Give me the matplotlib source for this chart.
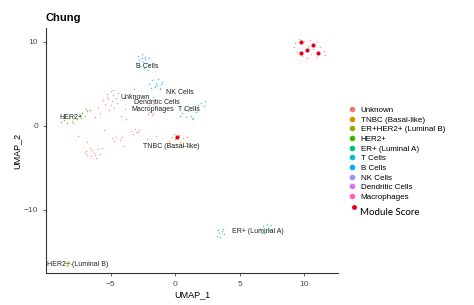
import matplotlib.pyplot as plt
from matplotlib.lines import Line2D

plt.rcParams['font.family'] = ['Liberation Sans', 'DejaVu Sans']

categories = ['Unknown', 'TNBC (Basal-like)', 'ER+HER2+ (Luminal B)', 'HER2+', 'ER+ (Luminal A)',
              'T Cells', 'B Cells', 'NK Cells', 'Dendritic Cells', 'Macrophages']
colors = ['#F8766D', '#D89000', '#A3A500', '#39B600', '#00BF7D',
          '#00BFC4', '#00B0F6', '#9590FF', '#E76BF3', '#FF62BC']

# approximate UMAP coordinates
unknown = [(-5.3, 3.8), (-5.0, 4.1), (-4.8, 3.6), (-5.2, 3.2), (-4.9, 2.9), (-4.6, 3.3), (-5.4, 2.6),
           (-5.0, 2.4), (-4.7, 2.1), (-5.1, 1.9), (-4.5, 2.7), (-5.3, 3.4), (-4.8, 4.2), (-4.4, 3.9),
           (-5.6, 3.0), (-6.0, 2.2), (-5.8, 1.5), (-4.2, 1.2), (-3.9, 2.0), (-3.5, 3.8), (-3.2, 4.4),
           (-3.8, 0.8), (-6.2, 1.0),
           (-6.9, -3.0), (-6.6, -2.7), (-6.3, -3.2), (-6.0, -2.8), (-5.8, -3.4), (-6.5, -3.6),
           (-6.8, -3.5), (-6.1, -3.8), (-5.7, -2.6), (-6.4, -2.9), (-6.2, -3.5), (-7.0, -3.3),
           (-3.4, -0.6), (-3.1, -0.4), (-2.9, -0.8), (-3.3, -1.0), (-2.8, -0.5), (-3.0, -0.7),
           (-4.9, -1.5), (-4.6, -1.3), (-4.3, -1.7), (-4.1, -1.4), (-4.7, -1.8),
           (-7.5, -1.2), (-5.5, -0.5), (-2.2, -1.6), (-1.5, -1.2), (-6.8, -1.9), (-4.0, -2.4),
           (9.3, 9.8), (9.6, 10.3), (10.0, 10.1), (10.4, 10.2), (10.9, 9.9), (11.2, 9.4), (11.5, 8.9),
           (11.0, 8.2), (10.5, 8.5), (10.2, 8.0), (9.8, 8.3), (9.4, 8.8), (9.2, 9.3), (10.3, 9.5),
           (10.7, 9.1), (11.6, 8.4)]
tnbc = [(-0.5, -1.8), (-0.3, -1.3), (0.0, -1.6), (0.3, -1.1), (0.6, -1.5), (0.8, -2.0), (0.5, -2.4),
        (0.1, -2.2), (-0.2, -2.5), (-0.4, -2.1), (0.4, -1.9), (0.9, -1.3), (-0.1, -1.0)]
luminal_b = [(-8.5, -16.3), (-8.3, -16.6), (-8.1, -16.4), (-8.4, -16.7), (-8.2, -16.2)]
her2 = [(-8.8, 0.4), (-8.6, 0.7), (-8.4, 0.3), (-8.2, 0.9), (-8.0, 0.5), (-7.8, 1.1), (-7.6, 0.8),
        (-7.4, 1.3), (-7.2, 1.5), (-7.0, 1.2), (-6.8, 1.7), (-6.6, 1.9), (-8.7, 0.9), (-7.9, 0.3),
        (-7.3, 0.9), (-6.9, 2.0)]
luminal_a = [(3.2, -13.1), (3.4, -12.8), (3.6, -12.5), (3.8, -12.9), (3.3, -12.4), (3.5, -13.2),
             (3.7, -12.3), (6.6, -12.3), (6.8, -11.9), (7.0, -12.6), (7.2, -12.1), (7.4, -11.8),
             (7.5, -12.5), (6.9, -12.8), (7.1, -11.7), (6.7, -12.7), (7.3, -12.4)]
t_cells = [(0.5, 1.5), (0.8, 1.0), (1.0, 1.8), (1.2, 1.2), (1.4, 0.9), (1.6, 1.6), (1.1, 2.2),
           (0.7, 2.0), (1.8, 2.4), (2.0, 2.7), (2.3, 2.9), (2.2, 2.3), (1.5, 2.0), (0.4, 1.1), (1.3, 0.8)]
b_cells = [(-2.9, 8.3), (-2.6, 8.5), (-2.3, 8.2), (-2.0, 8.0), (-2.8, 7.8), (-2.5, 7.6), (-2.2, 7.5),
           (-2.0, 7.2), (-2.7, 7.1), (-2.4, 6.8), (-2.1, 6.6), (-3.0, 7.4), (-2.3, 7.9), (-2.6, 8.0),
           (-2.0, 5.0), (-1.8, 5.4), (-1.5, 5.1), (-1.3, 5.5), (-1.1, 4.9), (-1.6, 4.6), (-1.9, 4.5),
           (-1.2, 4.4), (-1.4, 4.8), (-1.0, 5.2)]
nk_cells = [(-1.6, 4.7), (-1.2, 4.5), (-1.7, 3.4)]
dendritic = [(-2.0, 2.4), (-1.7, 2.6), (-1.4, 2.3)]
macrophages = [(-2.0, 1.6), (-1.8, 1.3), (-1.9, 1.8), (-1.7, 1.5), (-2.1, 1.4)]
module_score = [(9.73, 10.0), (10.64, 9.64), (10.17, 9.0), (9.73, 8.65), (11.02, 8.65), (0.12, -1.3)]

clusters = [unknown, tnbc, luminal_b, her2, luminal_a, t_cells, b_cells, nk_cells, dendritic, macrophages]

cluster_labels = ['B Cells', 'NK Cells', 'Unknown', 'Dendritic Cells', 'Macrophages', 'T Cells',
                  'HER2+', 'TNBC (Basal-like)', 'ER+ (Luminal A)']
label_pos = [(-2.2, 7.0), (0.35, 3.9), (-3.1, 3.3), (-1.4, 2.7), (-1.7, 1.9), (1.05, 1.9),
             (-8.1, 0.95), (-0.3, -2.5), (6.4, -12.6)]

fig = plt.figure(figsize=(4.74, 3.05), dpi=100)
ax = fig.add_axes([0.097, 0.105, 0.616, 0.803])

for pts, c in zip(clusters, colors):
    ax.scatter([p[0] for p in pts], [p[1] for p in pts], s=1.2, color=c, alpha=0.7, linewidths=0)

ax.scatter([p[0] for p in module_score], [p[1] for p in module_score], s=9, color='#E3001B', linewidths=0)

for lab, (x, y) in zip(cluster_labels, label_pos):
    ax.text(x, y, lab, fontsize=5, ha='center', va='center', color='#222222')
ax.text(-9.9, -16.5, 'HER2+ (Luminal B)', fontsize=5, ha='left', va='center', color='#222222')

ax.set_xlim(-10, 12.6)
ax.set_ylim(-17.5, 11.6)
ax.set_xticks([-5, 0, 5, 10])
ax.set_yticks([-10, 0, 10])
ax.tick_params(labelsize=6, colors='#4D4D4D', length=2, width=0.6)
for s in ['top', 'right']:
    ax.spines[s].set_visible(False)
for s in ['left', 'bottom']:
    ax.spines[s].set_color('#333333')
    ax.spines[s].set_linewidth(0.8)
ax.set_xlabel('UMAP_1', fontsize=6.5, labelpad=2)
ax.set_ylabel('UMAP_2', fontsize=6.5, labelpad=2)
fig.text(0.097, 0.94, 'Chung', fontsize=8, fontweight='bold', ha='left', va='center')

handles = [Line2D([], [], marker='o', linestyle='', markersize=3, color=c) for c in colors]
fig.legend(handles, categories, loc='upper left', bbox_to_anchor=(0.727, 0.662), frameon=False,
           fontsize=5.8, labelspacing=0.25, handletextpad=0.6, handlelength=1.0, borderaxespad=0)

fig.add_artist(Line2D([0.746], [0.322], marker='o', markersize=2.5, color='#E3001B',
                      linestyle='', transform=fig.transFigure))
fig.text(0.76, 0.303, 'Module Score', fontsize=7, family=['Lato', 'DejaVu Sans'],
         ha='left', va='center')

fig.savefig('out.png', dpi=100)
